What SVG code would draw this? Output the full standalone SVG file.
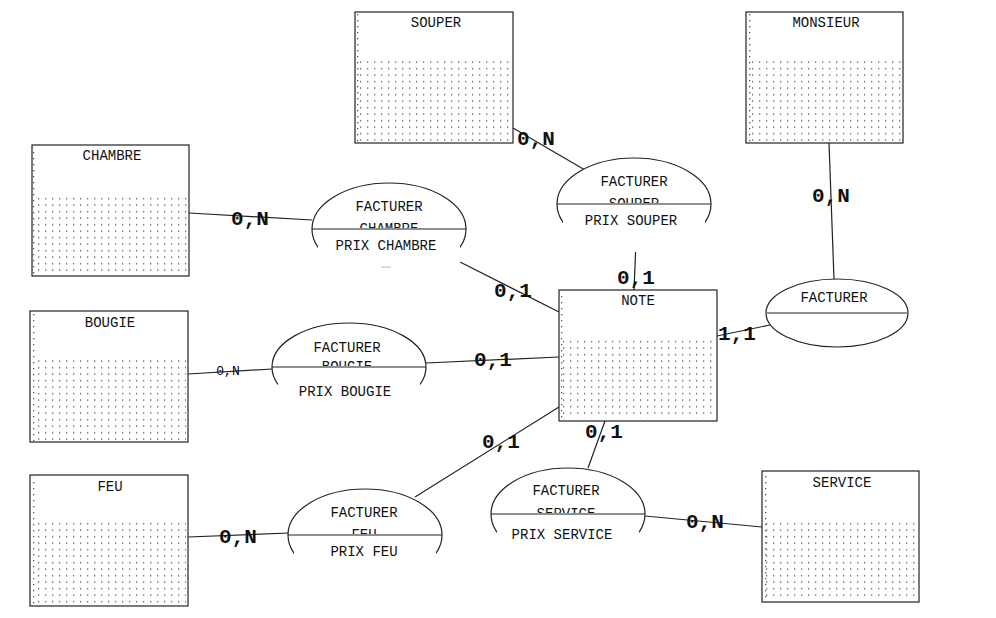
<svg xmlns="http://www.w3.org/2000/svg" width="996" height="618" viewBox="0 0 996 618">
<style>
.box{fill:#fff;stroke:#222;stroke-width:1.2}
.dots{fill:url(#dp)}
.side{fill:url(#ds)}
.t{font-family:"Liberation Mono",monospace;font-size:14px;fill:#111;text-anchor:middle}
.c{font-family:"Liberation Mono",monospace;font-size:21px;font-weight:bold;fill:#111;text-anchor:middle}
.e{fill:#fff;stroke:#222;stroke-width:1.2}
.ln{stroke:#222;stroke-width:1.2;fill:none}
</style>
<defs>
<pattern id="dp" width="7" height="6.5" patternUnits="userSpaceOnUse"><rect x="3" y="3" width="1.3" height="1.3" fill="#555"/></pattern>
<pattern id="ds" width="4" height="6" patternUnits="userSpaceOnUse"><rect x="1" y="2" width="1.3" height="1.3" fill="#555"/></pattern>
</defs>
<g id="connectors" class="ln">
<line x1="189" y1="213" x2="312" y2="220"/>
<line x1="460" y1="262" x2="559" y2="312"/>
<line x1="513" y1="128" x2="585" y2="170"/>
<line x1="636" y1="242" x2="634" y2="290"/>
<line x1="829" y1="143" x2="834" y2="279"/>
<line x1="770" y1="325" x2="717" y2="336"/>
<line x1="188" y1="374" x2="272" y2="369"/>
<line x1="426" y1="363" x2="559" y2="357"/>
<line x1="559" y1="407" x2="415" y2="497"/>
<line x1="188" y1="537" x2="289" y2="533"/>
<line x1="605" y1="421" x2="588" y2="468"/>
<line x1="645" y1="516" x2="762" y2="527"/>
</g>
<g id="labels">
<text class="c" x="250" y="225">0,N</text>
<text class="c" x="513" y="297">0,1</text>
<text class="c" x="536" y="145">0,N</text>
<text class="c" x="636" y="284">0,1</text>
<text class="c" x="831" y="202">0,N</text>
<text class="c" x="737" y="340">1,1</text>
<text x="228" y="375" style="font-family:'Liberation Mono',monospace;font-size:13px;text-anchor:middle">0,N</text>
<text class="c" x="493" y="366">0,1</text>
<text class="c" x="501" y="448">0,1</text>
<text class="c" x="238" y="543">0,N</text>
<text class="c" x="604" y="438">0,1</text>
<text class="c" x="705" y="528">0,N</text>
</g>
<g id="SOUPER"><rect class="box" x="355" y="12" width="158" height="131"/><rect class="dots" x="358" y="58" width="153" height="83"/><rect class="side" x="356" y="14" width="4" height="128"/><text class="t" x="436" y="27">SOUPER</text></g>
<g id="MONSIEUR"><rect class="box" x="746" y="12" width="157" height="131"/><rect class="dots" x="749" y="58" width="152" height="83"/><rect class="side" x="747" y="14" width="4" height="128"/><text class="t" x="826" y="27">MONSIEUR</text></g>
<g id="CHAMBRE"><rect class="box" x="32" y="145" width="157" height="131"/><rect class="dots" x="35" y="194" width="152" height="80"/><rect class="side" x="33" y="147" width="4" height="128"/><text class="t" x="112" y="160">CHAMBRE</text></g>
<g id="BOUGIE"><rect class="box" x="30" y="311" width="158" height="131"/><rect class="dots" x="33" y="360" width="153" height="80"/><rect class="side" x="31" y="313" width="4" height="128"/><text class="t" x="110" y="327">BOUGIE</text></g>
<g id="FEU"><rect class="box" x="30" y="475" width="158" height="131"/><rect class="dots" x="33" y="522" width="153" height="82"/><rect class="side" x="31" y="477" width="4" height="128"/><text class="t" x="110" y="491">FEU</text></g>
<g id="NOTE"><rect class="box" x="559" y="290" width="158" height="131"/><rect class="dots" x="562" y="337" width="153" height="82"/><rect class="side" x="560" y="292" width="4" height="128"/><text class="t" x="638" y="305">NOTE</text></g>
<g id="SERVICE"><rect class="box" x="762" y="471" width="157" height="131"/><rect class="dots" x="765" y="518" width="152" height="82"/><rect class="side" x="763" y="473" width="4" height="128"/><text class="t" x="842" y="487">SERVICE</text></g>
<g id="FACTURER_CHAMBRE"><ellipse class="e" cx="389" cy="229" rx="77" ry="46"/><rect x="318" y="233" width="142" height="44" fill="#fff"/><svg x="0" y="0" width="996" height="228" overflow="hidden"><text class="t" x="389" y="233">CHAMBRE</text></svg><line class="ln" x1="312" y1="229" x2="466" y2="229"/><text class="t" x="389" y="211">FACTURER</text><text class="t" x="386" y="250">PRIX CHAMBRE</text><line x1="381" y1="267" x2="391" y2="267" stroke="#bbb"/></g>
<g id="FACTURER_SOUPER"><ellipse class="e" cx="634" cy="204" rx="77" ry="46"/><rect x="563" y="208" width="142" height="44" fill="#fff"/><svg x="0" y="0" width="996" height="203" overflow="hidden"><text class="t" x="634" y="208">SOUPER</text></svg><line class="ln" x1="557" y1="204" x2="711" y2="204"/><text class="t" x="634" y="186">FACTURER</text><text class="t" x="631" y="225">PRIX SOUPER</text></g>
<g id="FACTURER_BOUGIE"><ellipse class="e" cx="349" cy="367" rx="77" ry="44"/><rect x="278" y="371" width="142" height="44" fill="#fff"/><svg x="0" y="0" width="996" height="366" overflow="hidden"><text class="t" x="347" y="371">BOUGIE</text></svg><line class="ln" x1="272" y1="367" x2="426" y2="367"/><text class="t" x="347" y="352">FACTURER</text><text class="t" x="345" y="396">PRIX BOUGIE</text></g>
<g id="FACTURER_FEU"><ellipse class="e" cx="365" cy="535" rx="77" ry="46"/><rect x="294" y="539" width="142" height="44" fill="#fff"/><svg x="0" y="0" width="996" height="534" overflow="hidden"><text class="t" x="364" y="539">FEU</text></svg><line class="ln" x1="288" y1="535" x2="442" y2="535"/><text class="t" x="364" y="517">FACTURER</text><text class="t" x="364" y="556">PRIX FEU</text></g>
<g id="FACTURER_SERVICE"><ellipse class="e" cx="568" cy="514" rx="77" ry="46"/><rect x="497" y="518" width="142" height="44" fill="#fff"/><svg x="0" y="0" width="996" height="513" overflow="hidden"><text class="t" x="566" y="518">SERVICE</text></svg><line class="ln" x1="491" y1="514" x2="645" y2="514"/><text class="t" x="566" y="495">FACTURER</text><text class="t" x="562" y="539">PRIX SERVICE</text></g>
<g id="FACTURER"><ellipse class="e" cx="837" cy="313" rx="71" ry="34"/><line class="ln" x1="767" y1="313" x2="907" y2="313"/><text class="t" x="834" y="302">FACTURER</text></g>
</svg>
